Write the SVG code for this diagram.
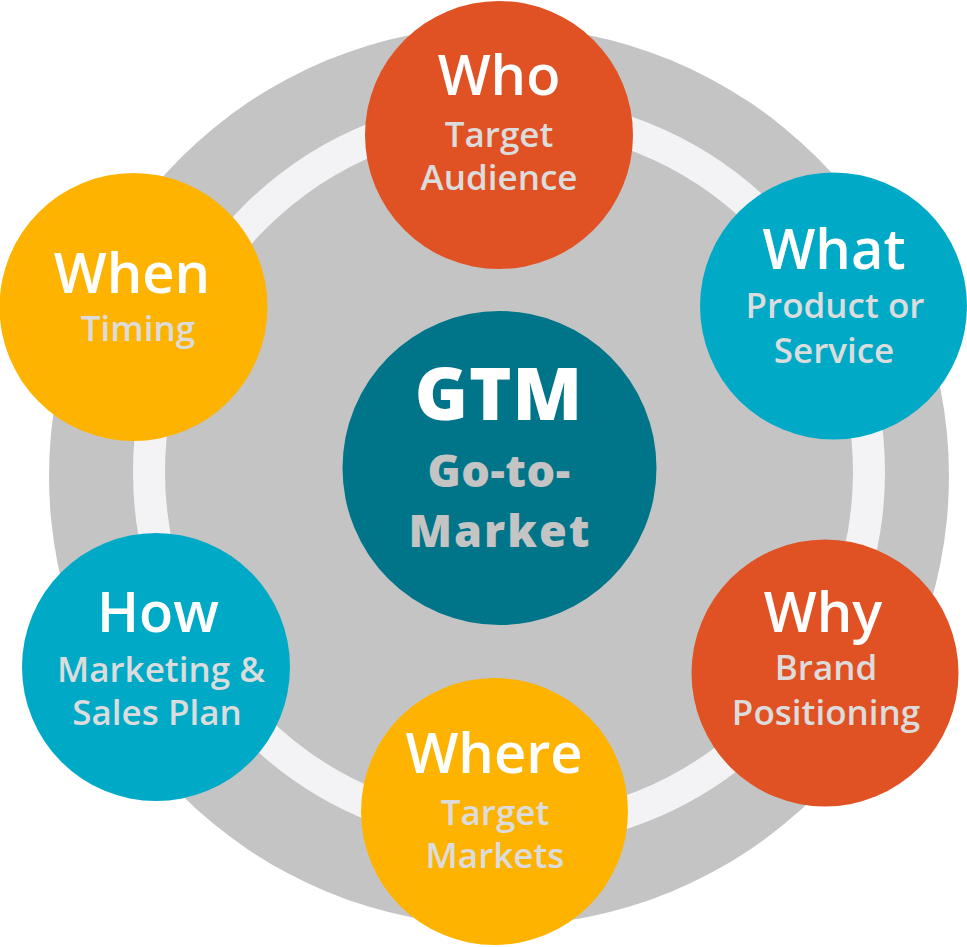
<svg xmlns="http://www.w3.org/2000/svg" width="967" height="947" viewBox="0 0 967 947">
<style>
.t{font-family:"Open Sans","Liberation Sans",sans-serif;text-anchor:middle;fill:#fff;font-weight:600;font-size:56px}
.s{font-family:"Open Sans","Liberation Sans",sans-serif;text-anchor:middle;fill:#DCDCDC;font-weight:600;font-size:35px}
.red{fill:#E05224}
.cyan{fill:#00AAC6}
.yel{fill:#FDB300}
.g1{font-family:"Open Sans","Liberation Sans",sans-serif;text-anchor:middle;font-weight:800}
</style>
<rect width="967" height="947" fill="#fff"/>
<g id="background">
<circle cx="499" cy="476" r="450" fill="#C4C4C4"/>
<circle cx="509" cy="472" r="360" fill="none" stroke="#F3F3F5" stroke-width="32"/>
</g>
<g id="center">
<circle cx="499.5" cy="468" r="157" fill="#00758A"/>
<text class="g1" x="499" y="420" font-size="72" fill="#fff" letter-spacing="1">GTM</text>
<text class="g1" x="499" y="487" font-size="45" fill="#C4C4C4" letter-spacing="0.5">Go-to-</text>
<text class="g1" x="500" y="547" font-size="45" fill="#C4C4C4" letter-spacing="2">Market</text>
</g>
<g id="who">
<circle class="red" cx="499" cy="135" r="134"/>
<text class="t" x="499" y="95">Who</text>
<text class="s" x="499" y="147">Target</text>
<text class="s" x="499" y="190">Audience</text>
</g>
<g id="what">
<circle class="cyan" cx="833.5" cy="306" r="133.5"/>
<text class="t" x="834" y="269">What</text>
<text class="s" x="835" y="318">Product or</text>
<text class="s" x="834" y="363">Service</text>
</g>
<g id="why">
<circle class="red" cx="825" cy="673" r="133.5"/>
<text class="t" x="823" y="632">Why</text>
<text class="s" x="826" y="680">Brand</text>
<text class="s" x="826" y="725">Positioning</text>
</g>
<g id="where">
<circle class="yel" cx="494.5" cy="811.5" r="133.5"/>
<text class="t" x="494" y="773">Where</text>
<text class="s" x="495" y="825">Target</text>
<text class="s" x="495" y="868">Markets</text>
</g>
<g id="how">
<circle class="cyan" cx="156" cy="667" r="134"/>
<text class="t" x="158" y="632">How</text>
<text class="s" x="161" y="682">Marketing &amp;</text>
<text class="s" x="157" y="725">Sales Plan</text>
</g>
<g id="when">
<circle class="yel" cx="133.5" cy="307" r="134"/>
<text class="t" x="132" y="293">When</text>
<text class="s" x="138" y="341">Timing</text>
</g>
<g id="connectors"></g>
</svg>
